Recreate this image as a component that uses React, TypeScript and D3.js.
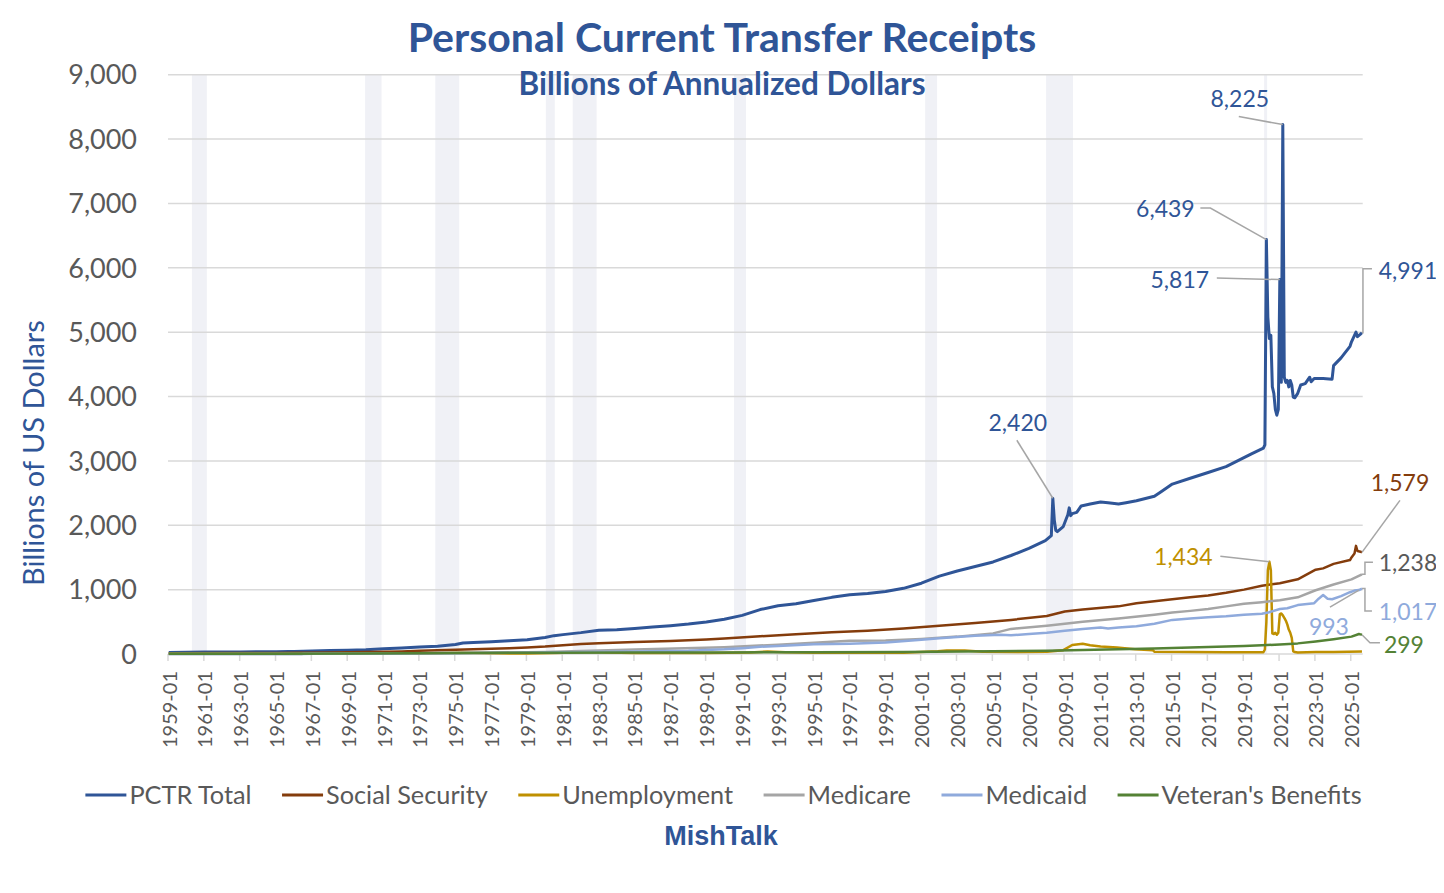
import React, { useEffect, useRef } from "react";
import * as d3 from "d3";

type Pt = [string, number];

// Monthly series, billions of annualized dollars (sparse where the line is smooth)
const pctrTotal: Pt[] = [
  ["1959-01", 25], ["1960-01", 27], ["1961-01", 30], ["1962-01", 32], ["1963-01", 33],
  ["1964-01", 35], ["1965-01", 36], ["1965-09", 40], ["1966-01", 40], ["1967-01", 46],
  ["1968-01", 53], ["1969-01", 59], ["1970-01", 67], ["1971-01", 83], ["1972-01", 95],
  ["1973-01", 108], ["1974-01", 122], ["1975-01", 148], ["1975-06", 172], ["1976-01", 178],
  ["1977-01", 190], ["1978-01", 204], ["1979-01", 222], ["1980-01", 255], ["1980-07", 285],
  ["1981-01", 301], ["1982-01", 332], ["1983-01", 370], ["1984-01", 375], ["1985-01", 395],
  ["1986-01", 420], ["1987-01", 440], ["1988-01", 465], ["1989-01", 497], ["1990-01", 540],
  ["1991-01", 600], ["1992-01", 690], ["1993-01", 750], ["1994-01", 780], ["1995-01", 830],
  ["1996-01", 880], ["1997-01", 920], ["1998-01", 940], ["1999-01", 970], ["2000-01", 1020],
  ["2001-01", 1100], ["2002-01", 1210], ["2003-01", 1290], ["2004-01", 1360], ["2005-01", 1430],
  ["2006-01", 1530], ["2007-01", 1640], ["2007-12", 1760], ["2008-04", 1840], ["2008-05", 2420],
  ["2008-06", 2080], ["2008-07", 1920], ["2008-08", 1900], ["2008-12", 1980], ["2009-02", 2100],
  ["2009-03", 2160], ["2009-04", 2270], ["2009-05", 2150], ["2009-06", 2180], ["2009-09", 2200],
  ["2009-12", 2300], ["2010-06", 2330], ["2011-01", 2360], ["2011-06", 2350], ["2012-01", 2330],
  ["2012-06", 2350], ["2013-01", 2380], ["2014-01", 2450], ["2014-06", 2530], ["2015-01", 2640],
  ["2016-01", 2730], ["2017-01", 2820], ["2018-01", 2910], ["2019-01", 3050], ["2019-06", 3110],
  ["2020-02", 3200], ["2020-03", 3250], ["2020-04", 6439], ["2020-05", 5230], ["2020-06", 4900],
  ["2020-07", 4950], ["2020-08", 4150], ["2020-09", 4050], ["2020-10", 3800], ["2020-11", 3710],
  ["2020-12", 3800], ["2021-01", 5817], ["2021-02", 4220], ["2021-03", 8225], ["2021-04", 4300],
  ["2021-05", 4220], ["2021-06", 4250], ["2021-07", 4150], ["2021-08", 4250], ["2021-09", 4180],
  ["2021-10", 3990], ["2021-11", 3980], ["2022-01", 4050], ["2022-03", 4180], ["2022-06", 4200],
  ["2022-09", 4300], ["2022-10", 4230], ["2022-12", 4280], ["2023-06", 4280], ["2023-12", 4270],
  ["2024-01", 4480], ["2024-06", 4600], ["2024-12", 4780], ["2025-01", 4850], ["2025-03", 4950],
  ["2025-04", 5000], ["2025-05", 4930], ["2025-07", 4970], ["2025-08", 4991],
];

const socialSecurity: Pt[] = [
  ["1959-01", 10], ["1962-01", 14], ["1965-01", 17], ["1966-01", 20], ["1968-01", 24],
  ["1970-01", 30], ["1972-01", 40], ["1973-01", 50], ["1974-01", 57], ["1975-01", 65],
  ["1976-01", 74], ["1977-01", 83], ["1978-01", 91], ["1979-01", 102], ["1980-01", 115],
  ["1981-01", 136], ["1982-01", 155], ["1983-01", 168], ["1985-01", 186], ["1987-01", 203],
  ["1989-01", 225], ["1990-01", 240], ["1992-01", 275], ["1994-01", 305], ["1996-01", 336],
  ["1998-01", 360], ["2000-01", 395], ["2002-01", 440], ["2004-01", 480], ["2006-01", 530],
  ["2008-01", 590], ["2009-01", 660], ["2010-01", 690], ["2012-01", 740], ["2013-01", 790],
  ["2014-01", 820], ["2016-01", 880], ["2017-01", 910], ["2018-01", 950], ["2019-01", 1000],
  ["2020-01", 1060], ["2021-01", 1100], ["2022-01", 1160], ["2023-01", 1310], ["2023-06", 1330],
  ["2024-01", 1400], ["2024-12", 1460], ["2025-01", 1500], ["2025-03", 1560], ["2025-04", 1680],
  ["2025-05", 1600], ["2025-07", 1590], ["2025-08", 1579],
];

const unemployment: Pt[] = [
  ["1959-01", 3], ["1960-06", 3], ["1961-03", 5], ["1962-01", 4], ["1965-01", 3],
  ["1969-01", 2], ["1970-12", 5], ["1971-06", 6], ["1973-01", 4], ["1975-05", 18],
  ["1976-01", 16], ["1978-01", 9], ["1979-01", 9], ["1980-07", 17], ["1982-12", 30],
  ["1983-06", 22], ["1985-01", 15], ["1989-01", 15], ["1991-06", 25], ["1992-06", 37],
  ["1993-06", 27], ["1995-01", 21], ["1998-01", 19], ["2000-01", 20], ["2001-12", 42],
  ["2002-06", 55], ["2003-06", 53], ["2004-06", 35], ["2006-06", 30], ["2008-01", 34],
  ["2008-12", 60], ["2009-06", 140], ["2010-01", 158], ["2010-06", 135], ["2011-01", 115],
  ["2011-12", 100], ["2012-12", 72], ["2013-12", 60], ["2014-01", 35], ["2016-01", 32],
  ["2018-01", 28], ["2020-02", 27], ["2020-03", 70], ["2020-04", 500], ["2020-05", 1300],
  ["2020-06", 1434], ["2020-07", 1300], ["2020-08", 320], ["2020-09", 310], ["2020-10", 330],
  ["2020-11", 300], ["2020-12", 330], ["2021-01", 620], ["2021-02", 630], ["2021-03", 600],
  ["2021-04", 560], ["2021-05", 520], ["2021-06", 460], ["2021-07", 380], ["2021-08", 330],
  ["2021-09", 250], ["2021-10", 40], ["2021-11", 30], ["2022-01", 22], ["2023-01", 30],
  ["2024-01", 33], ["2025-08", 37],
];

const medicare: Pt[] = [
  ["1959-01", 0], ["1966-06", 0], ["1966-07", 3], ["1967-01", 4], ["1970-01", 7],
  ["1975-01", 14], ["1980-01", 33], ["1985-01", 68], ["1990-01", 105], ["1993-01", 145],
  ["1995-01", 175], ["1997-01", 205], ["1999-01", 210], ["2001-01", 235], ["2003-01", 270],
  ["2005-01", 320], ["2006-01", 390], ["2008-01", 440], ["2010-01", 500], ["2012-01", 550],
  ["2014-01", 610], ["2015-01", 645], ["2016-01", 670], ["2017-01", 700], ["2018-01", 740],
  ["2019-01", 780], ["2020-01", 805], ["2021-01", 835], ["2022-01", 880], ["2023-01", 990],
  ["2024-01", 1080], ["2025-01", 1160], ["2025-08", 1238],
];

const medicaid: Pt[] = [
  ["1959-01", 0], ["1966-01", 0], ["1966-06", 1], ["1967-01", 2], ["1970-01", 5],
  ["1975-01", 13], ["1980-01", 24], ["1985-01", 38], ["1988-01", 50], ["1990-01", 72],
  ["1991-01", 90], ["1992-01", 112], ["1993-01", 125], ["1995-01", 150], ["1997-01", 160],
  ["1999-01", 180], ["2001-01", 220], ["2002-01", 245], ["2004-01", 285], ["2005-06", 300],
  ["2006-01", 290], ["2007-01", 310], ["2008-01", 330], ["2009-01", 360], ["2010-01", 390],
  ["2011-01", 410], ["2011-06", 395], ["2012-01", 410], ["2013-01", 430], ["2014-01", 470],
  ["2015-01", 530], ["2016-01", 550], ["2017-01", 570], ["2018-01", 585], ["2019-01", 610],
  ["2020-01", 625], ["2020-06", 650], ["2021-01", 700], ["2021-06", 710], ["2022-01", 760],
  ["2022-12", 790], ["2023-03", 860], ["2023-06", 915], ["2023-09", 860], ["2023-12", 850],
  ["2024-06", 900], ["2024-12", 960], ["2025-03", 985], ["2025-06", 993], ["2025-08", 1017],
];

const veterans: Pt[] = [
  ["1959-01", 4.5], ["1965-01", 5.5], ["1970-01", 9], ["1975-01", 16], ["1980-01", 21],
  ["1985-01", 22], ["1990-01", 24], ["1995-01", 27], ["2000-01", 32], ["2005-01", 42],
  ["2008-01", 50], ["2010-01", 62], ["2012-01", 72], ["2014-01", 86], ["2016-01", 100],
  ["2018-01", 115], ["2019-01", 125], ["2020-01", 135], ["2021-01", 148], ["2022-01", 165],
  ["2023-01", 195], ["2024-01", 230], ["2025-01", 270], ["2025-06", 310], ["2025-07", 305],
  ["2025-08", 299],
];

// NBER recessions: first and last shaded month
const recessions: [string, string][] = [
  ["1960-05", "1961-02"], ["1970-01", "1970-11"], ["1973-12", "1975-03"],
  ["1980-02", "1980-07"], ["1981-08", "1982-11"], ["1990-08", "1991-03"],
  ["2001-04", "2001-11"], ["2008-01", "2009-06"], ["2020-03", "2020-04"],
];

const yTicks = [0, 1000, 2000, 3000, 4000, 5000, 6000, 7000, 8000, 9000];

const series = [
  { name: "PCTR Total", color: "#2F5597", width: 3, data: pctrTotal },
  { name: "Social Security", color: "#843C0C", width: 2.5, data: socialSecurity },
  { name: "Unemployment", color: "#BF9000", width: 2.5, data: unemployment },
  { name: "Medicare", color: "#A5A5A5", width: 2.5, data: medicare },
  { name: "Medicaid", color: "#8FAADC", width: 2.5, data: medicaid },
  { name: "Veteran's Benefits", color: "#548235", width: 2.5, data: veterans },
];

// Value callouts: series index, month, label offset and leader elbows relative to the point
const callouts = [
  { s: 0, m: "2021-03", lx: -43, ly: -26, leader: [[-44, -8]] },
  { s: 0, m: "2020-04", lx: -101, ly: -31, leader: [[-66, -31.5], [-56, -31.5]] },
  { s: 0, m: "2021-01", lx: -100, ly: 0, leader: [[-63, -1.5]] },
  { s: 0, m: "2025-08", lx: 46, ly: -62, leader: [[10, -64], [1, -64], [1, 0]] },
  { s: 0, m: "2008-05", lx: -35, ly: -76, leader: [[-36, -58]] },
  { s: 1, m: "2025-08", lx: 38, ly: -70, leader: [[38, -52]] },
  { s: 2, m: "2020-06", lx: -86, ly: -5, leader: [[-49, -5.5]] },
  { s: 3, m: "2025-08", lx: 46, ly: -12, leader: [[11, -12], [3, -12], [3, 0]], color: "#595959" },
  { s: 4, m: "2025-08", lx: 46, ly: 23.5, leader: [[10, 22.5], [3, 22.5], [3, 0]] },
  { s: 4, m: "2025-06", lx: -30, ly: 37, leader: [[-29, 17]] },
  { s: 5, m: "2025-08", lx: 42, ly: 10, leader: [[18, 8], [8, 8]] },
];

const W = 1444;
const H = 893;
const TEXT = "#595959";
const BLUE = "#2F5597";
const FONT = "Lato, 'Open Sans', sans-serif";

const App: React.FC = () => {
  const svgRef = useRef<SVGSVGElement>(null);

  useEffect(() => {
    if (!svgRef.current) return;
    const svg = d3.select(svgRef.current);
    svg.selectAll("*").remove();

    const fmt = d3.utcFormat("%Y-%m");
    const months = d3.utcMonth
      .range(new Date(Date.UTC(1959, 0, 1)), new Date(Date.UTC(2025, 8, 1)))
      .map(fmt);

    const x = d3.scaleBand<string>().domain(months).range([168, 1362.7]);
    const bw = x.bandwidth();
    const cx = (m: string) => (x(m) ?? 0) + bw / 2;
    const y = d3.scaleLinear().domain([0, 9000]).range([654, 74.7]);

    // recession shading
    svg
      .append("g")
      .selectAll("rect")
      .data(recessions)
      .join("rect")
      .attr("x", (d) => x(d[0])!)
      .attr("width", (d) => x(d[1])! + bw - x(d[0])!)
      .attr("y", y(9000))
      .attr("height", y(0) - y(9000))
      .attr("fill", "#F0F1F6");

    // gridlines
    svg
      .append("g")
      .selectAll("line")
      .data(yTicks.filter((t) => t > 0))
      .join("line")
      .attr("x1", 168)
      .attr("x2", 1362.7)
      .attr("y1", (d) => y(d))
      .attr("y2", (d) => y(d))
      .attr("stroke", "#D9D9D9")
      .attr("stroke-width", 1.5);

    // y labels
    svg
      .append("g")
      .selectAll("text")
      .data(yTicks)
      .join("text")
      .attr("x", 137)
      .attr("y", (d) => y(d))
      .attr("dy", "0.36em")
      .attr("text-anchor", "end")
      .attr("font-family", FONT)
      .attr("font-size", 27)
      .attr("fill", TEXT)
      .text((d) => d3.format(",")(d));

    // category axis
    const axis = svg.append("g");
    axis
      .append("line")
      .attr("x1", 168)
      .attr("x2", 1362.7)
      .attr("y1", y(0))
      .attr("y2", y(0))
      .attr("stroke", "#D9D9D9")
      .attr("stroke-width", 1.5);
    const tickMonths = months.filter((_, i) => i % 24 === 0);
    axis
      .selectAll("line.tick")
      .data(tickMonths)
      .join("line")
      .attr("class", "tick")
      .attr("x1", (d) => x(d)!)
      .attr("x2", (d) => x(d)!)
      .attr("y1", y(0))
      .attr("y2", y(0) + 7)
      .attr("stroke", "#D9D9D9")
      .attr("stroke-width", 1.5);
    axis
      .selectAll("text")
      .data(tickMonths)
      .join("text")
      .attr("transform", (d) => `translate(${x(d)! + 8.5},${y(0) + 17}) rotate(-90)`)
      .attr("text-anchor", "end")
      .attr("font-family", FONT)
      .attr("font-size", 20)
      .attr("fill", TEXT)
      .text((d) => d);

    // series lines
    const line = d3
      .line<Pt>()
      .x((d) => cx(d[0]))
      .y((d) => y(d[1]));
    svg
      .append("g")
      .selectAll("path")
      .data(series)
      .join("path")
      .attr("d", (d) => line(d.data))
      .attr("fill", "none")
      .attr("stroke", (d) => d.color)
      .attr("stroke-width", (d) => d.width)
      .attr("stroke-linejoin", "round");

    // callouts
    const cg = svg.append("g");
    callouts.forEach((c) => {
      const s = series[c.s];
      const v = s.data.find((d) => d[0] === c.m)![1];
      const px = cx(c.m);
      const py = y(v);
      const pts: [number, number][] = c.leader.map(([dx, dy]) => [px + dx, py + dy]);
      pts.push([px, py]);
      cg.append("path")
        .attr("d", d3.line()(pts))
        .attr("fill", "none")
        .attr("stroke", "#A6A6A6")
        .attr("stroke-width", 1.5);
      cg.append("text")
        .attr("x", px + c.lx)
        .attr("y", py + c.ly)
        .attr("dy", "0.36em")
        .attr("text-anchor", "middle")
        .attr("font-family", FONT)
        .attr("font-size", 23)
        .attr("fill", c.color ?? s.color)
        .text(d3.format(",")(v));
    });

    // titles
    svg
      .append("text")
      .attr("x", 722)
      .attr("y", 52)
      .attr("text-anchor", "middle")
      .attr("font-family", FONT)
      .attr("font-weight", 700)
      .attr("font-size", 41)
      .attr("fill", BLUE)
      .text("Personal Current Transfer Receipts");
    svg
      .append("text")
      .attr("x", 722)
      .attr("y", 95)
      .attr("text-anchor", "middle")
      .attr("font-family", FONT)
      .attr("font-weight", 700)
      .attr("font-size", 31.5)
      .attr("fill", BLUE)
      .text("Billions of Annualized Dollars");
    svg
      .append("text")
      .attr("transform", "translate(44,453) rotate(-90)")
      .attr("text-anchor", "middle")
      .attr("font-family", FONT)
      .attr("font-size", 29)
      .attr("fill", BLUE)
      .text("Billions of US Dollars");

    // legend, laid out left to right then centred
    const lg = svg.append("g");
    const gap = 30.5;
    let cursor = 0;
    series.forEach((s) => {
      const item = lg.append("g").attr("transform", `translate(${cursor},0)`);
      item
        .append("line")
        .attr("x1", 0)
        .attr("x2", 41)
        .attr("y1", 795)
        .attr("y2", 795)
        .attr("stroke", s.color)
        .attr("stroke-width", 3);
      const t = item
        .append("text")
        .attr("x", 44)
        .attr("y", 804)
        .attr("font-family", FONT)
        .attr("font-size", 25.3)
        .attr("fill", TEXT)
        .text(s.name);
      const tw = (t.node() as SVGTextElement).getComputedTextLength();
      cursor += 44 + tw + gap;
    });
    const total = cursor - gap;
    lg.attr("transform", `translate(${723.5 - total / 2},0)`);

    svg
      .append("text")
      .attr("x", 721)
      .attr("y", 845)
      .attr("text-anchor", "middle")
      .attr("font-family", "'Liberation Sans', Arial, sans-serif")
      .attr("font-weight", 700)
      .attr("font-size", 27)
      .attr("fill", BLUE)
      .text("MishTalk");
  }, []);

  return (
    <svg
      ref={svgRef}
      width={W}
      height={H}
      style={{ display: "block", background: "#fff", marginTop: -8, marginLeft: -8 }}
    />
  );
};

export default App;
